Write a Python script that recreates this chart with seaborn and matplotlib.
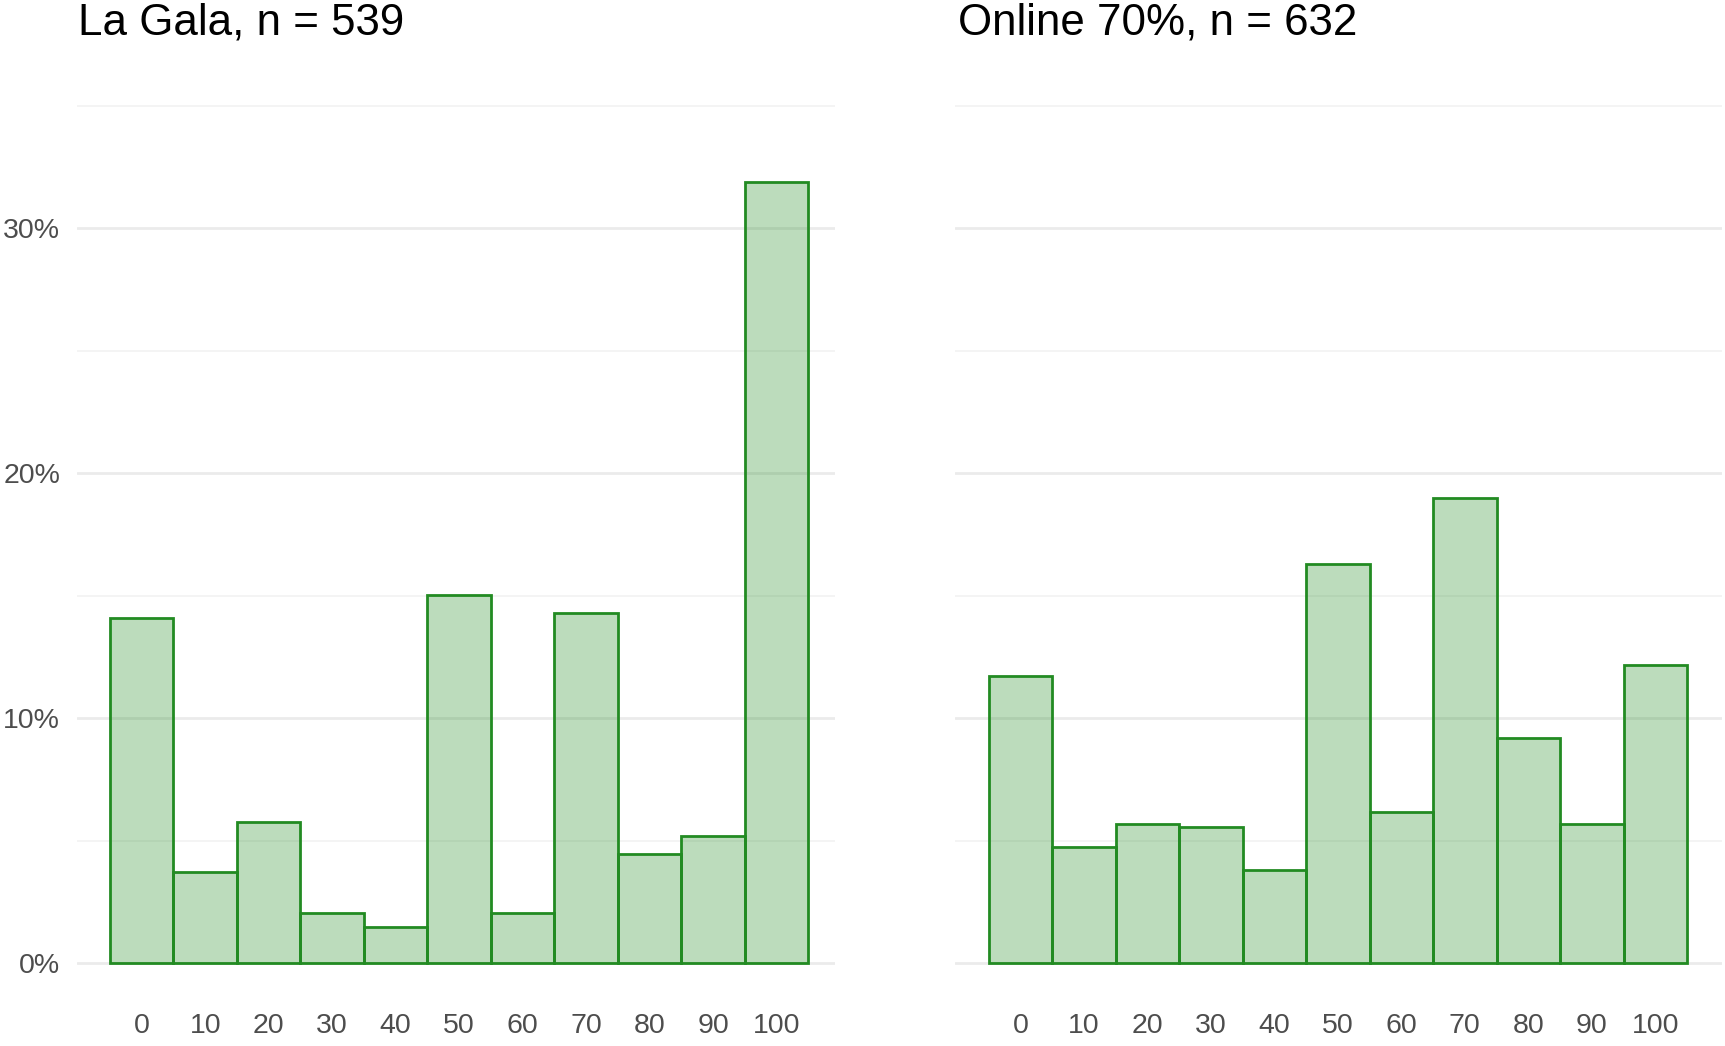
"""
Two-panel histogram of scores (percent of respondents per 10-point bin):
La Gala (n = 539) vs Online 70% (n = 632).

Output: out.png
"""

import matplotlib.pyplot as plt
import pandas as pd
import seaborn as sns
from matplotlib.ticker import FuncFormatter, MultipleLocator

SCORES = [0, 10, 20, 30, 40, 50, 60, 70, 80, 90, 100]
GALA_COUNTS = [76, 20, 31, 11, 8, 81, 11, 77, 24, 28, 172]
ONLINE_COUNTS = [74, 30, 36, 35, 24, 103, 39, 120, 58, 36, 77]
PANEL_TITLES = ["La Gala, n = 539", "Online 70%, n = 632"]

GREEN = "forestgreen"
W, H = 1725, 1046
DPI = 100


def main() -> None:
    sns.set_theme(style="white")
    plt.rcParams["font.family"] = ["Liberation Sans", "DejaVu Sans"]

    fig = plt.figure(figsize=(W / DPI, H / DPI), dpi=DPI)
    ax_left = fig.add_axes([77 / W, 40 / H, 758 / W, 943 / H])
    ax_right = fig.add_axes([955 / W, 40 / H, 767 / W, 943 / H])

    panels = [
        (ax_left, GALA_COUNTS, (-10.2, 109.2), 78),
        (ax_right, ONLINE_COUNTS, (-10.3, 110.5), 958),
    ]
    for i, (ax, counts, xlim, title_x) in enumerate(panels):
        df = pd.DataFrame({"score": SCORES, "count": counts})
        sns.histplot(
            data=df, x="score", weights="count", binwidth=10,
            binrange=(-5, 105), stat="percent",
            color=GREEN, alpha=0.3, edgecolor=GREEN, linewidth=2.0, ax=ax,
        )
        ax.set_xlim(*xlim)
        ax.set_ylim(-1.75, 36.75)
        ax.set_xlabel("")
        ax.set_ylabel("")
        for side in ax.spines.values():
            side.set_visible(False)

        ax.set_xticks(SCORES)
        ax.yaxis.set_major_locator(MultipleLocator(10))
        ax.yaxis.set_minor_locator(MultipleLocator(5))
        ax.yaxis.set_major_formatter(FuncFormatter(lambda v, _: f"{v:.0f}%"))
        ax.grid(False)
        ax.grid(axis="y", which="major", color="#EBEBEB", linewidth=2.0)
        ax.grid(axis="y", which="minor", color="#F3F3F3", linewidth=1.3)
        ax.set_axisbelow(True)
        ax.tick_params(axis="both", which="both", length=0, labelsize=20.5,
                       labelcolor="#4D4D4D")
        ax.tick_params(axis="y", pad=12.2)
        ax.tick_params(axis="x", pad=5.0)
        if i == 1:
            ax.tick_params(axis="y", labelleft=False)

        fig.text(title_x / W, 1 - 35 / H, PANEL_TITLES[i], fontsize=31.6,
                 color="black", ha="left", va="baseline")

    fig.savefig("out.png", dpi=DPI)
    plt.close(fig)


if __name__ == "__main__":
    main()
